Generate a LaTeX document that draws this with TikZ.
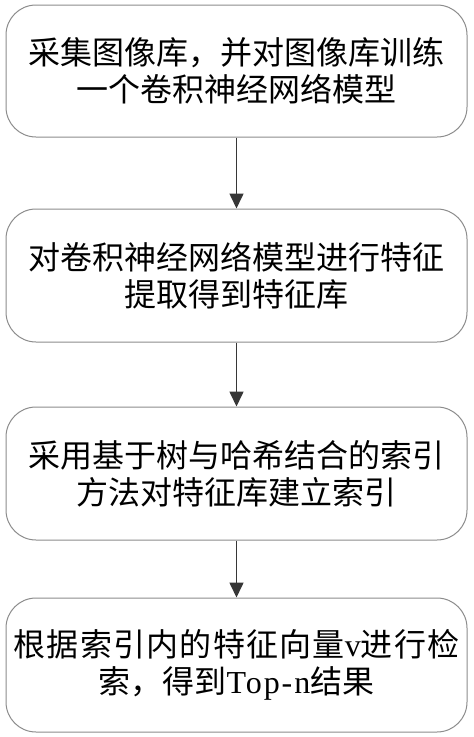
\documentclass[tikz,border=0pt]{standalone}
\usepackage{fontspec}
\newfontfamily\cjk{Noto Sans CJK SC}
\newfontfamily\latinserif{Liberation Serif}
\usetikzlibrary{arrows.meta}
\definecolor{boxgray}{RGB}{140,140,140}
\definecolor{arrowgray}{RGB}{55,55,55}
\tikzset{
  stepbox/.style={draw=boxgray, line width=1pt, rounded corners=30pt,
    minimum width=461pt, minimum height=132pt, align=center, fill=white,
    font=\cjk\fontsize{32}{37}\selectfont, inner sep=0pt},
  flowarrow/.style={draw=arrowgray, line width=1.6pt,
    -{Triangle[width=14pt,length=15pt]}}
}
\newcommand{\latinpart}[1]{{\latinserif\addfontfeature{LetterSpace=6}\fontsize{32}{37}\selectfont #1}}
\begin{document}
\begin{tikzpicture}
\useasboundingbox (0,0) rectangle (474pt,-737pt);
\fill[white] (0,0) rectangle (474pt,-737pt);
\node[stepbox] (b1) at (236.5pt,-71pt) {采集图像库，并对图像库训练\\一个卷积神经网络模型};
\node[stepbox, minimum height=133pt] (b2) at (236.5pt,-275.5pt) {对卷积神经网络模型进行特征\\提取得到特征库};
\node[stepbox, minimum height=133pt] (b3) at (236.5pt,-473.5pt) {采用基于树与哈希结合的索引\\方法对特征库建立索引};
\node[stepbox, minimum height=134pt] (b4) at (236.5pt,-665pt) {{\addfontfeature{LetterSpace=4}根据索引内的特征向量\latinpart{v}进行检}\\索，得到\latinpart{Top-n}结果};
\draw[flowarrow] (b1.south) -- (b2.north);
\draw[flowarrow] (b2.south) -- (b3.north);
\draw[flowarrow] (b3.south) -- (b4.north);
\end{tikzpicture}
\end{document}
